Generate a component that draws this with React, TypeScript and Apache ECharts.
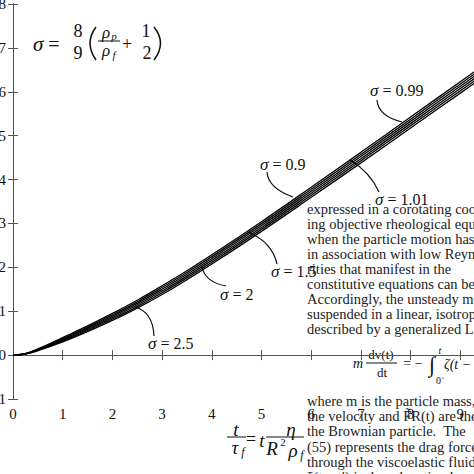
import { useEffect, useRef } from "react";
import * as echarts from "echarts";

// Dimensionless time t/tau_f
const tValues = [0, 0.25, 0.5, 1, 1.5, 2, 2.5, 3, 3.5, 4, 5, 6, 7, 8, 9, 10];
// Curves for each sigma
const sigma09 = [0, 0.035, 0.14, 0.4, 0.665, 0.95, 1.25, 1.58, 1.923, 2.285, 3.04, 3.825, 4.62, 5.425, 6.23, 7.035];
const sigma099 = [0, 0.033, 0.132, 0.38, 0.639, 0.918, 1.214, 1.54, 1.882, 2.243, 2.996, 3.779, 4.572, 5.375, 6.178, 6.981];
const sigma101 = [0, 0.031, 0.124, 0.36, 0.613, 0.886, 1.178, 1.5, 1.841, 2.201, 2.952, 3.733, 4.524, 5.325, 6.126, 6.927];
const sigma15 = [0, 0.029, 0.116, 0.34, 0.587, 0.854, 1.142, 1.46, 1.8, 2.159, 2.908, 3.687, 4.476, 5.275, 6.074, 6.873];
const sigma2 = [0, 0.027, 0.108, 0.32, 0.561, 0.822, 1.106, 1.42, 1.759, 2.117, 2.864, 3.641, 4.428, 5.225, 6.022, 6.819];
const sigma25 = [0, 0.025, 0.1, 0.3, 0.535, 0.79, 1.07, 1.38, 1.718, 2.075, 2.82, 3.595, 4.38, 5.175, 5.97, 6.765];

const seriesNames = ["0.9", "0.99", "1.01", "1.5", "2", "2.5"];
const seriesValues = [sigma09, sigma099, sigma101, sigma15, sigma2, sigma25];

const xMin = 0;
const xMax = 10;
const yMin = -1;
const yMax = 8;

// Overlapping body text from the source page
const bodyLines = [
  "expressed in a corotating coordinate",
  "ing objective rheological equations",
  "when the particle motion has",
  "in association with low Reynolds",
  "rities that manifest in the",
  "constitutive equations can be",
  "Accordingly, the unsteady motion",
  "suspended in a linear, isotropic",
  "described by a generalized Langevin",
];
const bodyLines2 = [
  "where m is the particle mass,",
  "the velocity and F\u0303R(t) are the",
  "the Brownian particle.  The",
  "(55) represents the drag force",
  "through the viscoelastic fluid",
  "\u03be(t \u2212 t\u2032) is the relaxation kernel",
];

const SERIF = '"Liberation Serif", "Times New Roman", serif';

export default function App() {
  const ref = useRef<HTMLDivElement>(null);
  useEffect(() => {
    if (!ref.current) return;
    const chart = echarts.init(ref.current, undefined, { renderer: "svg" });
    const axisColor = "#555";
    const labelStyle = { fontFamily: SERIF, fontSize: 15, color: "#111" };

    const sigmaText = (x: number, y: number, val: string) => ({
      type: "text",
      x,
      y,
      style: {
        text: "{i|\u03c3} = " + val,
        font: "16px " + SERIF,
        fill: "#111",
        verticalAlign: "middle",
        rich: { i: { fontStyle: "italic", fontSize: 17, fontFamily: SERIF } },
      },
    });
    const leader = (x1: number, y1: number, cx: number, cy: number, x2: number, y2: number) => ({
      type: "bezierCurve",
      shape: { x1, y1, cpx1: cx, cpy1: cy, x2, y2 },
      style: { stroke: "#111", lineWidth: 1.2, fill: "none" },
    });
    const txt = (x: number, y: number, text: string, font: string, extra: any = {}) => ({
      type: "text",
      x,
      y,
      style: { text, font, fill: "#111", verticalAlign: "middle", align: "center", ...extra },
    });
    const hline = (x1: number, x2: number, y: number) => ({
      type: "line",
      shape: { x1, y1: y, x2, y2: y },
      style: { stroke: "#111", lineWidth: 1 },
    });

    const bodyFont = "14.5px " + SERIF;
    const bodyY0 = 209;
    const bodyStep = 15.0;
    const body1 = bodyLines.map((l, i) => ({
      type: "text",
      x: 307,
      y: bodyY0 + i * bodyStep,
      style: { text: l, font: bodyFont, fill: "#222", verticalAlign: "middle" },
    }));
    const body2 = bodyLines2.map((l, i) => ({
      type: "text",
      x: 307,
      y: 401 + i * 15.2,
      style: { text: l, font: bodyFont, fill: "#222", verticalAlign: "middle" },
    }));

    const it = "italic ";
    const graphics: any[] = [
      // formula sigma = 8/9 (rho_p/rho_f + 1/2)
      { type: "text", x: 33, y: 44, style: { text: "{i|\u03c3} =", font: "20px " + SERIF, fill: "#111", verticalAlign: "middle", rich: { i: { fontStyle: "italic", fontSize: 21, fontFamily: SERIF } } } },
      txt(78, 31, "8", "18px " + SERIF),
      txt(78, 53, "9", "18px " + SERIF),
      {
        type: "bezierCurve",
        shape: { x1: 96, y1: 27, cpx1: 84, cpy1: 43, x2: 96, y2: 60 },
        style: { stroke: "#111", lineWidth: 1.5, fill: "none" },
      },
      txt(106, 32, "\u03c1", it + "17px " + SERIF),
      txt(114, 36, "p", it + "11px " + SERIF),
      hline(98, 120, 41),
      txt(106, 50, "\u03c1", it + "17px " + SERIF),
      txt(114, 55, "f", it + "11px " + SERIF),
      txt(127, 44, "+", "18px " + SERIF),
      txt(146, 31, "1", "18px " + SERIF),
      txt(147, 53, "2", "18px " + SERIF),
      {
        type: "bezierCurve",
        shape: { x1: 154, y1: 27, cpx1: 167, cpy1: 43, x2: 154, y2: 60 },
        style: { stroke: "#111", lineWidth: 1.5, fill: "none" },
      },
      // x axis title t/tau_f = t eta/(R^2 rho_f)
      txt(236, 429, "t", it + "19px " + SERIF),
      hline(227, 246, 437),
      txt(235, 447, "\u03c4", it + "19px " + SERIF),
      txt(243, 452, "f", it + "12px " + SERIF),
      txt(251, 439, "=", "18px " + SERIF),
      txt(262, 440, "t", it + "19px " + SERIF),
      txt(291, 429, "\u03b7", it + "19px " + SERIF),
      hline(266, 304, 437),
      txt(272, 448, "R", it + "19px " + SERIF),
      txt(283, 442, "2", "11px " + SERIF),
      txt(293, 450, "\u03c1", it + "19px " + SERIF),
      txt(302, 455, "f", it + "12px " + SERIF),
      // sigma labels
      sigmaText(370, 90, "0.99"),
      sigmaText(260, 164, "0.9"),
      sigmaText(375, 199, "1.01"),
      sigmaText(271, 271, "1.5"),
      sigmaText(220, 294, "2"),
      sigmaText(148, 343, "2.5"),
      leader(377, 100, 378, 116, 402, 122),
      leader(267, 172, 268, 188, 293, 197),
      leader(350, 160, 370, 172, 379, 192),
      leader(248, 232, 272, 242, 277, 264),
      leader(202, 267, 205, 282, 226, 286),
      leader(135, 307, 153, 312, 154, 336),
      // overlapping body text
      ...body1,
      // equation line
      txt(358, 363, "m", it + "14px " + SERIF),
      txt(381, 354, "dv(t)", "13px " + SERIF),
      hline(366, 397, 363),
      txt(382, 372, "dt", "13px " + SERIF),
      txt(413, 363, "= \u2212", "14px " + SERIF),
      txt(432, 364, "\u222b", "22px " + SERIF),
      txt(440, 350, "t", it + "10px " + SERIF),
      txt(440, 380, "0\u207b", "10px " + SERIF),
      { type: "text", x: 444, y: 364, style: { text: "\u03b6(t \u2212", font: it + "14px " + SERIF, fill: "#111", verticalAlign: "middle" } },
      ...body2,
    ];

    chart.setOption({
      animation: false,
      backgroundColor: "#fff",
      grid: { left: 13, top: 4, right: 10, bottom: 75, containLabel: false, outerBoundsMode: "none" },
      xAxis: [
        {
          type: "value",
          min: xMin,
          max: xMax,
          interval: 1,
          position: "bottom",
          axisLine: { lineStyle: { color: axisColor, width: 1 } },
          axisTick: { inside: true, length: 5, lineStyle: { color: axisColor } },
          axisLabel: { ...labelStyle, margin: 7 },
          splitLine: { show: false },
        },
        {
          type: "value",
          min: xMin,
          max: xMax,
          interval: 1,
          position: "top",
          axisLine: { lineStyle: { color: axisColor, width: 1 } },
          axisTick: { inside: true, length: 5, lineStyle: { color: axisColor } },
          axisLabel: { show: false },
          splitLine: { show: false },
        },
      ],
      yAxis: [
        {
          type: "value",
          min: yMin,
          max: yMax,
          interval: 1,
          position: "left",
          axisLine: { show: true, lineStyle: { color: axisColor, width: 1 } },
          axisTick: { show: true, inside: true, length: 5, lineStyle: { color: axisColor } },
          axisLabel: {
            ...labelStyle,
            margin: 7,
            formatter: (v: number) => (v < 0 ? "\u2212" + Math.abs(v) : String(v)),
          },
          splitLine: { show: false },
        },
        {
          type: "value",
          min: yMin,
          max: yMax,
          interval: 1,
          position: "right",
          axisLine: { show: true, lineStyle: { color: axisColor, width: 1 } },
          axisTick: { show: true, inside: true, length: 5, lineStyle: { color: axisColor } },
          axisLabel: { show: false },
          splitLine: { show: false },
        },
      ],
      series: seriesValues.map((vals, k) => ({
        name: "\u03c3 = " + seriesNames[k],
        type: "line",
        xAxisIndex: 0,
        yAxisIndex: 0,
        data: tValues.map((t, i) => [t, vals[i]]),
        showSymbol: false,
        smooth: 0.4,
        lineStyle: { color: "#000", width: 1.3 },
        z: 2,
      })),
      graphic: graphics,
    });
    return () => chart.dispose();
  }, []);
  return (
    <div style={{ position: "fixed", left: 0, top: 0, width: 474, height: 474, overflow: "hidden", background: "#fff" }}>
      <div ref={ref} style={{ width: 520, height: 474 }} />
    </div>
  );
}
